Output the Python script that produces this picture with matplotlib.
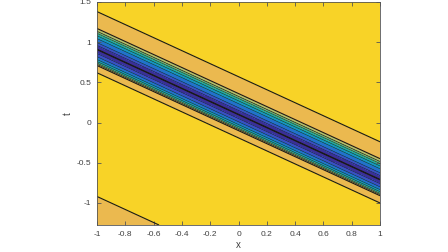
import numpy as np
import matplotlib
matplotlib.use("Agg")
import matplotlib.pyplot as plt

plt.rcParams['font.family'] = ['Liberation Sans', 'DejaVu Sans']
plt.rcParams['axes.unicode_minus'] = False

# travelling band: centre line t = c0 + slope * x
slope = -0.81
c0 = 0.10

# profile across the band (offset in t from the centre line -> level value)
profile_s = [-3.0, -1.83, -1.0, -0.29, -0.20, -0.185, -0.17, -0.15, -0.125, -0.09,
             -0.05, -0.004, 0.0, 0.004, 0.05, 0.085, 0.135, 0.17, 0.20, 0.225,
             0.26, 0.47, 1.2, 3.0]
profile_u = [0.85, 0.90, 0.95, 0.90, 0.80, 0.70, 0.60, 0.50, 0.40, 0.30,
             0.20, 0.10, 0.05, 0.10, 0.20, 0.30, 0.40, 0.50, 0.60, 0.70,
             0.80, 0.90, 0.95, 0.97]

levels = np.linspace(0, 1, 11)
band_colors = ['#352a87', '#3b2f98', '#3a4fc4', '#2272cc', '#1596c2',
               '#1eaca6', '#57ba85', '#b1c26c', '#ebb94f', '#f8d327']

x_ticks = [-1, -0.8, -0.6, -0.4, -0.2, 0, 0.2, 0.4, 0.6, 0.8, 1]
x_labels = ['-1', '-0.8', '-0.6', '-0.4', '-0.2', '0', '0.2', '0.4', '0.6', '0.8', '1']
t_ticks = [-1, -0.5, 0, 0.5, 1, 1.5]
t_labels = ['-1', '-0.5', '0', '0.5', '1', '1.5']
t_min, t_max = -1.275, 1.5

x = np.linspace(-1, 1, 900)
t = np.linspace(t_min, t_max, 1200)
X, T = np.meshgrid(x, t)
S = T - (c0 + slope * X)
U = np.interp(S, profile_s, profile_u)

fig = plt.figure(figsize=(4.48, 2.52), dpi=100)
ax = fig.add_axes([97 / 448, 27 / 252, 283 / 448, 223 / 252])

ax.contourf(X, T, U, levels=levels, colors=band_colors)
ax.contour(X, T, U, levels=levels[1:-1], colors='#1a1a1a',
           linewidths=[0.6, 0.35, 0.35, 0.35, 0.35, 0.35, 0.5, 0.8, 0.8])

ax.set_xlim(-1, 1)
ax.set_ylim(t_min, t_max)
ax.set_xticks(x_ticks)
ax.set_xticklabels(x_labels)
ax.set_yticks(t_ticks)
ax.set_yticklabels(t_labels)
ax.tick_params(direction='in', length=3, width=0.6, top=True, right=True,
               labelsize=6, colors='#555555', labelcolor='#404040', pad=4)
for sp in ax.spines.values():
    sp.set_color('#555555')
    sp.set_linewidth(0.6)

ax.set_xlabel('x', fontsize=7, color='#404040', labelpad=2)
ax.set_ylabel('t', fontsize=7, color='#404040', labelpad=3)

fig.savefig('out.png', dpi=100)
